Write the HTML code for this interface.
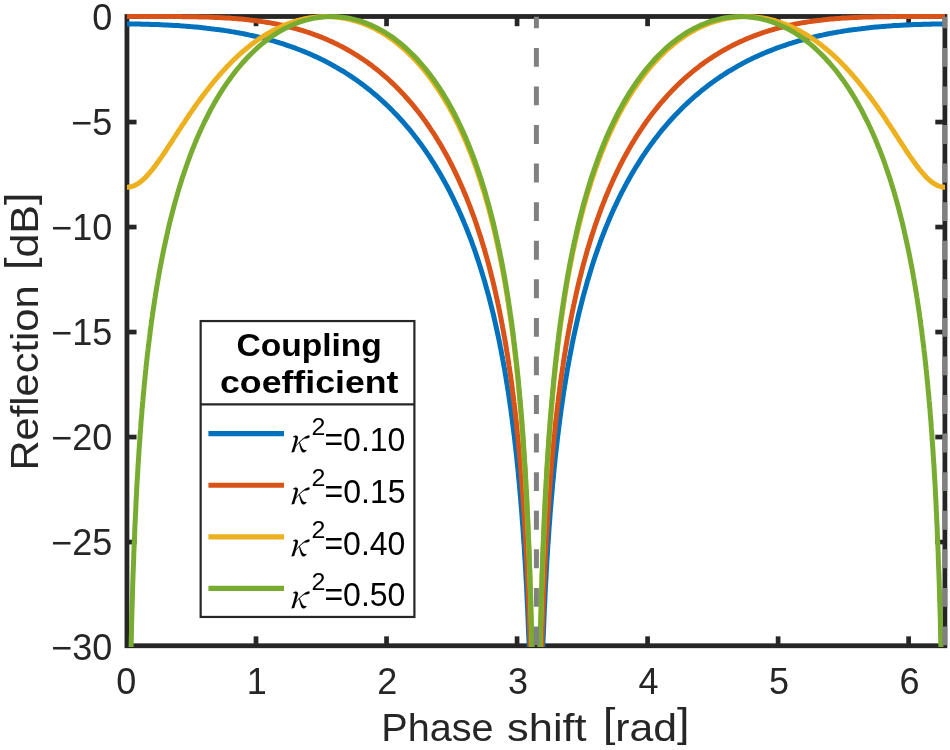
<!DOCTYPE html>
<html><head><meta charset="utf-8"><title>Reflection vs phase shift</title>
<style>html,body{margin:0;padding:0;background:#fff}svg{display:block}</style></head>
<body>
<svg width="950" height="750" viewBox="0 0 950 750">
<defs><clipPath id="pc"><rect x="126.2" y="13.9" width="819.4" height="633"/></clipPath><clipPath id="pd"><rect x="124" y="16.8" width="824" height="630.1"/></clipPath></defs>
<rect width="950" height="750" fill="#fff"/>
<rect x="126.95" y="16.5" width="817.9499999999999" height="629.25" stroke="#262626" stroke-width="4.8" fill="none"/>
<g stroke="#262626" stroke-width="4.7" fill="none">
<path d="M256.02,645.75 V636.35"/>
<path d="M256.02,16.5 V26.2"/>
<path d="M386.54,645.75 V636.35"/>
<path d="M386.54,16.5 V26.2"/>
<path d="M517.06,645.75 V636.35"/>
<path d="M517.06,16.5 V26.2"/>
<path d="M647.58,645.75 V636.35"/>
<path d="M647.58,16.5 V26.2"/>
<path d="M778.10,645.75 V636.35"/>
<path d="M778.10,16.5 V26.2"/>
<path d="M908.62,645.75 V636.35"/>
<path d="M908.62,16.5 V26.2"/>
<path d="M126.95,122.05 H136.54999999999998"/>
<path d="M944.9,122.05 H935.3"/>
<path d="M126.95,227.05 H136.54999999999998"/>
<path d="M944.9,227.05 H935.3"/>
<path d="M126.95,332.05 H136.54999999999998"/>
<path d="M944.9,332.05 H935.3"/>
<path d="M126.95,437.05 H136.54999999999998"/>
<path d="M944.9,437.05 H935.3"/>
<path d="M126.95,542.05 H136.54999999999998"/>
<path d="M944.9,542.05 H935.3"/>
</g>
<g clip-path="url(#pc)" fill="none" stroke-linejoin="round">
<path d="M127.0,24.0 L127.3,24.0 L127.5,24.0 L127.8,24.0 L128.1,24.0 L128.4,24.0 L128.6,24.0 L128.9,24.0 L129.0,24.0 L129.2,24.0 L129.5,24.0 L129.7,24.0 L130.0,24.0 L130.3,24.0 L130.6,24.0 L130.8,24.0 L131.1,24.0 L131.1,24.0 L131.4,24.0 L131.6,24.0 L131.9,24.1 L132.2,24.1 L132.5,24.1 L132.7,24.1 L133.0,24.1 L133.1,24.1 L133.3,24.1 L133.6,24.1 L133.8,24.1 L134.1,24.1 L134.4,24.1 L134.7,24.1 L134.9,24.1 L135.2,24.1 L135.2,24.1 L135.5,24.1 L135.8,24.1 L136.0,24.1 L136.3,24.1 L136.6,24.1 L136.8,24.1 L137.1,24.1 L137.2,24.1 L137.4,24.1 L137.7,24.1 L137.9,24.1 L138.2,24.1 L138.5,24.1 L138.8,24.1 L139.0,24.1 L139.3,24.1 L139.3,24.1 L139.6,24.1 L139.9,24.1 L140.1,24.1 L140.4,24.1 L140.7,24.1 L140.9,24.2 L141.2,24.2 L141.3,24.2 L141.5,24.2 L141.8,24.2 L142.0,24.2 L142.3,24.2 L142.6,24.2 L142.9,24.2 L143.1,24.2 L143.4,24.2 L143.4,24.2 L143.7,24.2 L144.0,24.2 L144.2,24.2 L144.5,24.2 L144.8,24.2 L145.1,24.2 L145.3,24.2 L145.4,24.2 L145.6,24.2 L145.9,24.2 L146.1,24.3 L146.4,24.3 L146.7,24.3 L147.0,24.3 L147.2,24.3 L147.4,24.3 L147.5,24.3 L147.8,24.3 L148.1,24.3 L148.3,24.3 L148.6,24.3 L148.9,24.3 L149.2,24.3 L149.4,24.3 L149.5,24.3 L149.7,24.3 L150.0,24.3 L150.2,24.4 L150.5,24.4 L150.8,24.4 L151.1,24.4 L151.3,24.4 L151.5,24.4 L151.6,24.4 L151.9,24.4 L152.2,24.4 L152.4,24.4 L152.7,24.4 L153.0,24.4 L153.3,24.4 L153.5,24.5 L153.6,24.5 L153.8,24.5 L154.1,24.5 L154.4,24.5 L154.6,24.5 L154.9,24.5 L155.2,24.5 L155.4,24.5 L155.6,24.5 L155.7,24.5 L156.0,24.5 L156.3,24.5 L156.5,24.6 L156.8,24.6 L157.1,24.6 L157.4,24.6 L157.6,24.6 L157.7,24.6 L157.9,24.6 L158.2,24.6 L158.5,24.6 L158.7,24.6 L159.0,24.6 L159.3,24.7 L159.5,24.7 L159.7,24.7 L161.8,24.8 L163.8,24.9 L165.9,24.9 L167.9,25.0 L169.9,25.2 L172.0,25.3 L174.0,25.4 L176.1,25.5 L178.1,25.6 L180.2,25.8 L182.2,25.9 L184.3,26.1 L186.3,26.2 L188.4,26.4 L190.4,26.6 L192.4,26.7 L194.5,26.9 L196.5,27.1 L198.6,27.3 L200.6,27.5 L202.7,27.7 L204.7,27.9 L206.8,28.2 L208.8,28.4 L210.8,28.7 L212.9,28.9 L214.9,29.2 L217.0,29.4 L219.0,29.7 L221.1,30.0 L223.1,30.3 L225.2,30.6 L227.2,30.9 L229.3,31.2 L231.3,31.6 L233.3,31.9 L235.4,32.3 L237.4,32.6 L239.5,33.0 L241.5,33.4 L243.6,33.8 L245.6,34.2 L247.7,34.6 L249.7,35.1 L251.7,35.5 L253.8,36.0 L255.8,36.4 L257.9,36.9 L259.9,37.4 L262.0,37.9 L264.0,38.4 L266.1,39.0 L268.1,39.5 L270.1,40.1 L272.2,40.6 L274.2,41.2 L276.3,41.8 L278.3,42.4 L280.4,43.1 L282.4,43.7 L284.5,44.4 L286.5,45.1 L288.6,45.8 L290.6,46.5 L292.6,47.2 L294.7,47.9 L296.7,48.7 L298.8,49.5 L300.8,50.3 L302.9,51.1 L304.9,51.9 L307.0,52.8 L309.0,53.6 L311.1,54.5 L313.1,55.5 L315.1,56.4 L317.2,57.3 L319.2,58.3 L321.3,59.3 L323.3,60.3 L325.4,61.3 L327.4,62.4 L329.5,63.5 L331.5,64.6 L333.5,65.7 L335.6,66.9 L337.6,68.1 L339.7,69.3 L341.7,70.5 L343.8,71.7 L345.8,73.0 L347.9,74.3 L349.9,75.7 L352.0,77.0 L354.0,78.4 L356.0,79.8 L358.1,81.3 L360.1,82.7 L362.2,84.3 L364.2,85.8 L366.3,87.4 L368.3,89.0 L370.4,90.6 L372.4,92.3 L374.4,94.0 L376.5,95.7 L378.5,97.5 L380.6,99.3 L382.6,101.2 L384.7,103.1 L386.7,105.0 L388.8,107.0 L390.8,109.0 L392.9,111.1 L394.9,113.2 L396.9,115.3 L399.0,117.5 L401.0,119.7 L403.1,122.0 L405.1,124.4 L407.2,126.8 L409.2,129.2 L411.3,131.7 L413.3,134.3 L415.3,136.9 L417.4,139.5 L419.4,142.3 L421.5,145.1 L423.5,147.9 L425.6,150.9 L427.6,153.9 L429.7,156.9 L431.7,160.1 L433.8,163.3 L435.8,166.6 L437.8,170.0 L439.9,173.5 L441.9,177.0 L444.0,180.7 L446.0,184.4 L448.1,188.3 L450.1,192.2 L452.2,196.3 L454.2,200.5 L456.2,204.8 L458.3,209.2 L460.3,213.8 L462.4,218.5 L464.4,223.4 L466.5,228.4 L468.5,233.6 L470.6,238.9 L472.6,244.5 L474.7,250.2 L476.7,256.1 L478.7,262.3 L480.8,268.7 L482.8,275.4 L484.9,282.3 L486.9,289.6 L489.0,297.2 L491.0,305.1 L493.1,313.4 L495.1,322.1 L496.9,330.4 L497.1,331.3 L497.3,331.9 L497.6,333.4 L497.9,334.9 L498.3,336.5 L498.6,338.1 L498.9,339.6 L499.2,341.0 L499.2,341.2 L499.6,342.8 L499.9,344.4 L500.2,346.1 L500.5,347.7 L500.9,349.4 L501.2,351.1 L501.2,351.3 L501.5,352.8 L501.8,354.5 L502.2,356.2 L502.5,358.0 L502.8,359.7 L503.2,361.5 L503.3,362.2 L503.5,363.3 L503.8,365.1 L504.1,367.0 L504.5,368.8 L504.8,370.7 L505.1,372.6 L505.3,373.8 L505.4,374.5 L505.8,376.5 L506.1,378.4 L506.4,380.4 L506.7,382.4 L507.1,384.4 L507.4,386.3 L507.4,386.5 L507.7,388.6 L508.1,390.7 L508.4,392.8 L508.7,395.0 L509.0,397.1 L509.4,399.3 L509.4,399.7 L509.7,401.6 L510.0,403.8 L510.3,406.1 L510.7,408.4 L511.0,410.8 L511.3,413.2 L511.5,414.2 L511.7,415.6 L512.0,418.0 L512.3,420.5 L512.6,423.0 L513.0,425.6 L513.3,428.2 L513.5,429.9 L513.6,430.8 L513.9,433.5 L514.3,436.2 L514.6,438.9 L514.9,441.7 L515.2,444.5 L515.6,447.2 L515.6,447.4 L515.9,450.3 L516.2,453.3 L516.6,456.3 L516.9,459.4 L517.2,462.5 L517.5,465.7 L517.6,466.3 L517.9,469.0 L518.2,472.3 L518.5,475.6 L518.8,479.1 L519.2,482.6 L519.5,486.1 L519.6,487.7 L519.8,489.8 L520.1,493.5 L520.5,497.2 L520.8,501.1 L521.1,505.1 L521.5,509.1 L521.7,512.0 L521.8,513.2 L522.1,517.5 L522.4,521.8 L522.8,526.2 L523.1,530.8 L523.4,535.4 L523.7,540.0 L523.7,540.2 L524.1,545.1 L524.4,550.2 L524.7,555.4 L525.1,560.7 L525.4,566.3 L525.7,571.9 L525.8,573.2 L526.0,577.8 L526.4,583.9 L526.7,590.2 L527.0,596.7 L527.3,603.4 L527.7,610.4 L527.8,613.8 L528.0,617.7 L528.3,625.3 L528.6,633.2 L529.0,641.5 L529.3,650.1 L529.6,659.2 L529.9,666.2 L530.0,668.8 L530.3,678.9 L530.6,689.7 L530.9,701.0 L541.1,701.0 L541.4,689.7 L541.7,678.9 L542.0,668.8 L542.1,666.2 L542.4,659.2 L542.7,650.1 L543.0,641.5 L543.4,633.2 L543.7,625.3 L544.0,617.7 L544.2,613.8 L544.3,610.4 L544.7,603.4 L545.0,596.7 L545.3,590.2 L545.6,583.9 L546.0,577.8 L546.2,573.2 L546.3,571.9 L546.6,566.3 L546.9,560.7 L547.3,555.4 L547.6,550.2 L547.9,545.1 L548.3,540.2 L548.3,540.0 L548.6,535.4 L548.9,530.8 L549.2,526.2 L549.6,521.8 L549.9,517.5 L550.2,513.2 L550.3,512.0 L550.5,509.1 L550.9,505.1 L551.2,501.1 L551.5,497.2 L551.9,493.5 L552.2,489.8 L552.4,487.7 L552.5,486.1 L552.8,482.6 L553.2,479.1 L553.5,475.6 L553.8,472.3 L554.1,469.0 L554.4,466.3 L554.5,465.7 L554.8,462.5 L555.1,459.4 L555.4,456.3 L555.8,453.3 L556.1,450.3 L556.4,447.4 L556.5,447.2 L556.8,444.5 L557.1,441.7 L557.4,438.9 L557.7,436.2 L558.1,433.5 L558.4,430.8 L558.5,429.9 L558.7,428.2 L559.0,425.6 L559.4,423.0 L559.7,420.5 L560.0,418.0 L560.3,415.6 L560.5,414.2 L560.7,413.2 L561.0,410.8 L561.3,408.4 L561.7,406.1 L562.0,403.8 L562.3,401.6 L562.6,399.7 L562.6,399.3 L563.0,397.1 L563.3,395.0 L563.6,392.8 L563.9,390.7 L564.3,388.6 L564.6,386.5 L564.6,386.3 L564.9,384.4 L565.3,382.4 L565.6,380.4 L565.9,378.4 L566.2,376.5 L566.6,374.5 L566.7,373.8 L566.9,372.6 L567.2,370.7 L567.5,368.8 L567.9,367.0 L568.2,365.1 L568.5,363.3 L568.7,362.2 L568.8,361.5 L569.2,359.7 L569.5,358.0 L569.8,356.2 L570.2,354.5 L570.5,352.8 L570.8,351.3 L570.8,351.1 L571.1,349.4 L571.5,347.7 L571.8,346.1 L572.1,344.4 L572.4,342.8 L572.8,341.2 L572.8,341.0 L573.1,339.6 L573.4,338.1 L573.7,336.5 L574.1,334.9 L574.4,333.4 L574.7,331.9 L574.9,331.3 L575.1,330.4 L576.9,322.1 L578.9,313.4 L581.0,305.1 L583.0,297.2 L585.1,289.6 L587.1,282.3 L589.2,275.4 L591.2,268.7 L593.3,262.3 L595.3,256.1 L597.4,250.2 L599.4,244.5 L601.4,238.9 L603.5,233.6 L605.5,228.4 L607.6,223.4 L609.6,218.5 L611.7,213.8 L613.7,209.2 L615.8,204.8 L617.8,200.5 L619.8,196.3 L621.9,192.2 L623.9,188.3 L626.0,184.4 L628.0,180.7 L630.1,177.0 L632.1,173.5 L634.2,170.0 L636.2,166.6 L638.3,163.3 L640.3,160.1 L642.3,156.9 L644.4,153.9 L646.4,150.9 L648.5,147.9 L650.5,145.1 L652.6,142.3 L654.6,139.5 L656.7,136.9 L658.7,134.3 L660.7,131.7 L662.8,129.2 L664.8,126.8 L666.9,124.4 L668.9,122.0 L671.0,119.7 L673.0,117.5 L675.1,115.3 L677.1,113.2 L679.2,111.1 L681.2,109.0 L683.2,107.0 L685.3,105.0 L687.3,103.1 L689.4,101.2 L691.4,99.3 L693.5,97.5 L695.5,95.7 L697.6,94.0 L699.6,92.3 L701.6,90.6 L703.7,89.0 L705.7,87.4 L707.8,85.8 L709.8,84.3 L711.9,82.7 L713.9,81.3 L716.0,79.8 L718.0,78.4 L720.0,77.0 L722.1,75.7 L724.1,74.3 L726.2,73.0 L728.2,71.7 L730.3,70.5 L732.3,69.3 L734.4,68.1 L736.4,66.9 L738.5,65.7 L740.5,64.6 L742.5,63.5 L744.6,62.4 L746.6,61.3 L748.7,60.3 L750.7,59.3 L752.8,58.3 L754.8,57.3 L756.9,56.4 L758.9,55.5 L761.0,54.5 L763.0,53.6 L765.0,52.8 L767.1,51.9 L769.1,51.1 L771.2,50.3 L773.2,49.5 L775.3,48.7 L777.3,47.9 L779.4,47.2 L781.4,46.5 L783.4,45.8 L785.5,45.1 L787.5,44.4 L789.6,43.7 L791.6,43.1 L793.7,42.4 L795.7,41.8 L797.8,41.2 L799.8,40.6 L801.9,40.1 L803.9,39.5 L805.9,39.0 L808.0,38.4 L810.0,37.9 L812.1,37.4 L814.1,36.9 L816.2,36.4 L818.2,36.0 L820.3,35.5 L822.3,35.1 L824.3,34.6 L826.4,34.2 L828.4,33.8 L830.5,33.4 L832.5,33.0 L834.6,32.6 L836.6,32.3 L838.7,31.9 L840.7,31.6 L842.8,31.2 L844.8,30.9 L846.8,30.6 L848.9,30.3 L850.9,30.0 L853.0,29.7 L855.0,29.4 L857.1,29.2 L859.1,28.9 L861.2,28.7 L863.2,28.4 L865.2,28.2 L867.3,27.9 L869.3,27.7 L871.4,27.5 L873.4,27.3 L875.5,27.1 L877.5,26.9 L879.6,26.7 L881.6,26.6 L883.7,26.4 L885.7,26.2 L887.7,26.1 L889.8,25.9 L891.8,25.8 L893.9,25.6 L895.9,25.5 L898.0,25.4 L900.0,25.3 L902.1,25.2 L904.1,25.0 L906.1,24.9 L908.2,24.9 L910.2,24.8 L912.3,24.7 L912.5,24.7 L912.7,24.7 L913.0,24.6 L913.3,24.6 L913.5,24.6 L913.8,24.6 L914.1,24.6 L914.3,24.6 L914.4,24.6 L914.6,24.6 L914.9,24.6 L915.2,24.6 L915.5,24.6 L915.7,24.5 L916.0,24.5 L916.3,24.5 L916.4,24.5 L916.6,24.5 L916.8,24.5 L917.1,24.5 L917.4,24.5 L917.6,24.5 L917.9,24.5 L918.2,24.5 L918.4,24.5 L918.5,24.5 L918.7,24.4 L919.0,24.4 L919.3,24.4 L919.6,24.4 L919.8,24.4 L920.1,24.4 L920.4,24.4 L920.5,24.4 L920.7,24.4 L920.9,24.4 L921.2,24.4 L921.5,24.4 L921.8,24.4 L922.0,24.3 L922.3,24.3 L922.5,24.3 L922.6,24.3 L922.8,24.3 L923.1,24.3 L923.4,24.3 L923.7,24.3 L923.9,24.3 L924.2,24.3 L924.5,24.3 L924.6,24.3 L924.8,24.3 L925.0,24.3 L925.3,24.3 L925.6,24.3 L925.9,24.3 L926.1,24.2 L926.4,24.2 L926.6,24.2 L926.7,24.2 L926.9,24.2 L927.2,24.2 L927.5,24.2 L927.8,24.2 L928.0,24.2 L928.3,24.2 L928.6,24.2 L928.6,24.2 L928.9,24.2 L929.1,24.2 L929.4,24.2 L929.7,24.2 L930.0,24.2 L930.2,24.2 L930.5,24.2 L930.7,24.2 L930.8,24.2 L931.1,24.2 L931.3,24.1 L931.6,24.1 L931.9,24.1 L932.1,24.1 L932.4,24.1 L932.7,24.1 L932.7,24.1 L933.0,24.1 L933.2,24.1 L933.5,24.1 L933.8,24.1 L934.1,24.1 L934.3,24.1 L934.6,24.1 L934.8,24.1 L934.9,24.1 L935.2,24.1 L935.4,24.1 L935.7,24.1 L936.0,24.1 L936.2,24.1 L936.5,24.1 L936.8,24.1 L936.8,24.1 L937.1,24.1 L937.3,24.1 L937.6,24.1 L937.9,24.1 L938.2,24.1 L938.4,24.1 L938.7,24.1 L938.9,24.1 L939.0,24.1 L939.3,24.1 L939.5,24.1 L939.8,24.1 L940.1,24.1 L940.4,24.0 L940.6,24.0 L940.9,24.0 L940.9,24.0 L941.2,24.0 L941.4,24.0 L941.7,24.0 L942.0,24.0 L942.3,24.0 L942.5,24.0 L942.8,24.0 L943.0,24.0 L943.1,24.0 L943.4,24.0 L943.6,24.0 L943.9,24.0 L944.2,24.0 L944.5,24.0 L944.7,24.0 L945.0,24.0" stroke="#0072BD" stroke-width="5.0"/>
<path d="M127.0,16.6 L127.3,16.6 L127.5,16.6 L127.8,16.6 L128.1,16.6 L128.4,16.6 L128.6,16.6 L128.9,16.6 L129.0,16.6 L129.2,16.6 L129.5,16.6 L129.7,16.6 L130.0,16.6 L130.3,16.6 L130.6,16.6 L130.8,16.6 L131.1,16.6 L131.1,16.6 L131.4,16.6 L131.6,16.6 L131.9,16.6 L132.2,16.6 L132.5,16.6 L132.7,16.6 L133.0,16.6 L133.1,16.6 L133.3,16.6 L133.6,16.6 L133.8,16.6 L134.1,16.6 L134.4,16.6 L134.7,16.6 L134.9,16.6 L135.2,16.6 L135.2,16.6 L135.5,16.6 L135.8,16.6 L136.0,16.6 L136.3,16.6 L136.6,16.6 L136.8,16.6 L137.1,16.6 L137.2,16.6 L137.4,16.6 L137.7,16.6 L137.9,16.6 L138.2,16.6 L138.5,16.6 L138.8,16.6 L139.0,16.6 L139.3,16.6 L139.3,16.6 L139.6,16.6 L139.9,16.6 L140.1,16.6 L140.4,16.6 L140.7,16.6 L140.9,16.6 L141.2,16.6 L141.3,16.6 L141.5,16.6 L141.8,16.6 L142.0,16.6 L142.3,16.6 L142.6,16.6 L142.9,16.6 L143.1,16.6 L143.4,16.6 L143.4,16.6 L143.7,16.6 L144.0,16.6 L144.2,16.6 L144.5,16.6 L144.8,16.6 L145.1,16.6 L145.3,16.6 L145.4,16.6 L145.6,16.6 L145.9,16.6 L146.1,16.6 L146.4,16.6 L146.7,16.6 L147.0,16.6 L147.2,16.6 L147.4,16.6 L147.5,16.6 L147.8,16.6 L148.1,16.6 L148.3,16.6 L148.6,16.6 L148.9,16.6 L149.2,16.6 L149.4,16.6 L149.5,16.6 L149.7,16.6 L150.0,16.6 L150.2,16.6 L150.5,16.6 L150.8,16.6 L151.1,16.6 L151.3,16.6 L151.5,16.6 L151.6,16.6 L151.9,16.6 L152.2,16.6 L152.4,16.6 L152.7,16.6 L153.0,16.6 L153.3,16.6 L153.5,16.6 L153.6,16.6 L153.8,16.6 L154.1,16.6 L154.4,16.6 L154.6,16.6 L154.9,16.6 L155.2,16.6 L155.4,16.6 L155.6,16.6 L155.7,16.6 L156.0,16.6 L156.3,16.6 L156.5,16.6 L156.8,16.6 L157.1,16.6 L157.4,16.6 L157.6,16.6 L157.7,16.6 L157.9,16.6 L158.2,16.6 L158.5,16.6 L158.7,16.6 L159.0,16.6 L159.3,16.6 L159.5,16.6 L159.7,16.6 L161.8,16.6 L163.8,16.6 L165.9,16.6 L167.9,16.6 L169.9,16.6 L172.0,16.6 L174.0,16.6 L176.1,16.6 L178.1,16.6 L180.2,16.6 L182.2,16.7 L184.3,16.7 L186.3,16.7 L188.4,16.7 L190.4,16.7 L192.4,16.8 L194.5,16.8 L196.5,16.8 L198.6,16.9 L200.6,16.9 L202.7,17.0 L204.7,17.0 L206.8,17.1 L208.8,17.1 L210.8,17.2 L212.9,17.3 L214.9,17.4 L217.0,17.5 L219.0,17.6 L221.1,17.7 L223.1,17.8 L225.2,17.9 L227.2,18.0 L229.3,18.1 L231.3,18.3 L233.3,18.4 L235.4,18.6 L237.4,18.7 L239.5,18.9 L241.5,19.1 L243.6,19.3 L245.6,19.5 L247.7,19.7 L249.7,20.0 L251.7,20.2 L253.8,20.4 L255.8,20.7 L257.9,21.0 L259.9,21.3 L262.0,21.6 L264.0,21.9 L266.1,22.2 L268.1,22.5 L270.1,22.9 L272.2,23.3 L274.2,23.6 L276.3,24.0 L278.3,24.5 L280.4,24.9 L282.4,25.3 L284.5,25.8 L286.5,26.3 L288.6,26.8 L290.6,27.3 L292.6,27.8 L294.7,28.3 L296.7,28.9 L298.8,29.5 L300.8,30.1 L302.9,30.7 L304.9,31.3 L307.0,32.0 L309.0,32.7 L311.1,33.4 L313.1,34.1 L315.1,34.8 L317.2,35.6 L319.2,36.4 L321.3,37.2 L323.3,38.0 L325.4,38.9 L327.4,39.8 L329.5,40.7 L331.5,41.6 L333.5,42.6 L335.6,43.5 L337.6,44.5 L339.7,45.6 L341.7,46.6 L343.8,47.7 L345.8,48.8 L347.9,50.0 L349.9,51.1 L352.0,52.4 L354.0,53.6 L356.0,54.8 L358.1,56.1 L360.1,57.5 L362.2,58.8 L364.2,60.2 L366.3,61.6 L368.3,63.1 L370.4,64.6 L372.4,66.1 L374.4,67.7 L376.5,69.3 L378.5,70.9 L380.6,72.6 L382.6,74.3 L384.7,76.1 L386.7,77.9 L388.8,79.7 L390.8,81.6 L392.9,83.6 L394.9,85.5 L396.9,87.6 L399.0,89.6 L401.0,91.8 L403.1,93.9 L405.1,96.2 L407.2,98.5 L409.2,100.8 L411.3,103.2 L413.3,105.6 L415.3,108.1 L417.4,110.7 L419.4,113.3 L421.5,116.0 L423.5,118.8 L425.6,121.6 L427.6,124.5 L429.7,127.5 L431.7,130.6 L433.8,133.7 L435.8,136.9 L437.8,140.2 L439.9,143.6 L441.9,147.1 L444.0,150.7 L446.0,154.3 L448.1,158.1 L450.1,162.0 L452.2,166.0 L454.2,170.1 L456.2,174.4 L458.3,178.7 L460.3,183.2 L462.4,187.9 L464.4,192.7 L466.5,197.6 L468.5,202.8 L470.6,208.1 L472.6,213.6 L474.7,219.2 L476.7,225.1 L478.7,231.3 L480.8,237.6 L482.8,244.2 L484.9,251.1 L486.9,258.4 L489.0,265.9 L491.0,273.8 L493.1,282.0 L495.1,290.7 L496.9,299.0 L497.1,299.9 L497.3,300.5 L497.6,302.0 L497.9,303.5 L498.3,305.1 L498.6,306.6 L498.9,308.2 L499.2,309.6 L499.2,309.8 L499.6,311.4 L499.9,313.0 L500.2,314.6 L500.5,316.3 L500.9,317.9 L501.2,319.6 L501.2,319.8 L501.5,321.3 L501.8,323.0 L502.2,324.7 L502.5,326.5 L502.8,328.2 L503.2,330.0 L503.3,330.7 L503.5,331.8 L503.8,333.6 L504.1,335.5 L504.5,337.3 L504.8,339.2 L505.1,341.1 L505.3,342.3 L505.4,343.0 L505.8,344.9 L506.1,346.9 L506.4,348.9 L506.7,350.9 L507.1,352.9 L507.4,354.7 L507.4,354.9 L507.7,357.0 L508.1,359.1 L508.4,361.2 L508.7,363.4 L509.0,365.6 L509.4,367.8 L509.4,368.1 L509.7,370.0 L510.0,372.2 L510.3,374.5 L510.7,376.8 L511.0,379.2 L511.3,381.6 L511.5,382.6 L511.7,384.0 L512.0,386.4 L512.3,388.9 L512.6,391.4 L513.0,394.0 L513.3,396.6 L513.5,398.3 L513.6,399.2 L513.9,401.8 L514.3,404.5 L514.6,407.3 L514.9,410.1 L515.2,412.9 L515.6,415.6 L515.6,415.8 L515.9,418.7 L516.2,421.7 L516.6,424.7 L516.9,427.8 L517.2,430.9 L517.5,434.1 L517.6,434.7 L517.9,437.3 L518.2,440.6 L518.5,444.0 L518.8,447.4 L519.2,450.9 L519.5,454.4 L519.6,456.1 L519.8,458.1 L520.1,461.8 L520.5,465.6 L520.8,469.4 L521.1,473.4 L521.5,477.4 L521.7,480.3 L521.8,481.5 L522.1,485.8 L522.4,490.1 L522.8,494.5 L523.1,499.1 L523.4,503.7 L523.7,508.3 L523.7,508.5 L524.1,513.4 L524.4,518.5 L524.7,523.7 L525.1,529.0 L525.4,534.6 L525.7,540.2 L525.8,541.5 L526.0,546.1 L526.4,552.2 L526.7,558.4 L527.0,564.9 L527.3,571.7 L527.7,578.7 L527.8,582.1 L528.0,586.0 L528.3,593.6 L528.6,601.5 L529.0,609.7 L529.3,618.4 L529.6,627.5 L529.9,634.5 L530.0,637.1 L530.3,647.2 L530.6,657.9 L530.9,669.3 L531.3,681.5 L531.6,694.5 L531.9,708.3 L540.1,708.3 L540.4,694.5 L540.7,681.5 L541.1,669.3 L541.4,657.9 L541.7,647.2 L542.0,637.1 L542.1,634.5 L542.4,627.5 L542.7,618.4 L543.0,609.7 L543.4,601.5 L543.7,593.6 L544.0,586.0 L544.2,582.1 L544.3,578.7 L544.7,571.7 L545.0,564.9 L545.3,558.4 L545.6,552.2 L546.0,546.1 L546.2,541.5 L546.3,540.2 L546.6,534.6 L546.9,529.0 L547.3,523.7 L547.6,518.5 L547.9,513.4 L548.3,508.5 L548.3,508.3 L548.6,503.7 L548.9,499.1 L549.2,494.5 L549.6,490.1 L549.9,485.8 L550.2,481.5 L550.3,480.3 L550.5,477.4 L550.9,473.4 L551.2,469.4 L551.5,465.6 L551.9,461.8 L552.2,458.1 L552.4,456.1 L552.5,454.4 L552.8,450.9 L553.2,447.4 L553.5,444.0 L553.8,440.6 L554.1,437.3 L554.4,434.7 L554.5,434.1 L554.8,430.9 L555.1,427.8 L555.4,424.7 L555.8,421.7 L556.1,418.7 L556.4,415.8 L556.5,415.6 L556.8,412.9 L557.1,410.1 L557.4,407.3 L557.7,404.5 L558.1,401.8 L558.4,399.2 L558.5,398.3 L558.7,396.6 L559.0,394.0 L559.4,391.4 L559.7,388.9 L560.0,386.4 L560.3,384.0 L560.5,382.6 L560.7,381.6 L561.0,379.2 L561.3,376.8 L561.7,374.5 L562.0,372.2 L562.3,370.0 L562.6,368.1 L562.6,367.8 L563.0,365.6 L563.3,363.4 L563.6,361.2 L563.9,359.1 L564.3,357.0 L564.6,354.9 L564.6,354.7 L564.9,352.9 L565.3,350.9 L565.6,348.9 L565.9,346.9 L566.2,344.9 L566.6,343.0 L566.7,342.3 L566.9,341.1 L567.2,339.2 L567.5,337.3 L567.9,335.5 L568.2,333.6 L568.5,331.8 L568.7,330.7 L568.8,330.0 L569.2,328.2 L569.5,326.5 L569.8,324.7 L570.2,323.0 L570.5,321.3 L570.8,319.8 L570.8,319.6 L571.1,317.9 L571.5,316.3 L571.8,314.6 L572.1,313.0 L572.4,311.4 L572.8,309.8 L572.8,309.6 L573.1,308.2 L573.4,306.6 L573.7,305.1 L574.1,303.5 L574.4,302.0 L574.7,300.5 L574.9,299.9 L575.1,299.0 L576.9,290.7 L578.9,282.0 L581.0,273.8 L583.0,265.9 L585.1,258.4 L587.1,251.1 L589.2,244.2 L591.2,237.6 L593.3,231.3 L595.3,225.1 L597.4,219.2 L599.4,213.6 L601.4,208.1 L603.5,202.8 L605.5,197.6 L607.6,192.7 L609.6,187.9 L611.7,183.2 L613.7,178.7 L615.8,174.4 L617.8,170.1 L619.8,166.0 L621.9,162.0 L623.9,158.1 L626.0,154.3 L628.0,150.7 L630.1,147.1 L632.1,143.6 L634.2,140.2 L636.2,136.9 L638.3,133.7 L640.3,130.6 L642.3,127.5 L644.4,124.5 L646.4,121.6 L648.5,118.8 L650.5,116.0 L652.6,113.3 L654.6,110.7 L656.7,108.1 L658.7,105.6 L660.7,103.2 L662.8,100.8 L664.8,98.5 L666.9,96.2 L668.9,93.9 L671.0,91.8 L673.0,89.6 L675.1,87.6 L677.1,85.5 L679.2,83.6 L681.2,81.6 L683.2,79.7 L685.3,77.9 L687.3,76.1 L689.4,74.3 L691.4,72.6 L693.5,70.9 L695.5,69.3 L697.6,67.7 L699.6,66.1 L701.6,64.6 L703.7,63.1 L705.7,61.6 L707.8,60.2 L709.8,58.8 L711.9,57.5 L713.9,56.1 L716.0,54.8 L718.0,53.6 L720.0,52.4 L722.1,51.1 L724.1,50.0 L726.2,48.8 L728.2,47.7 L730.3,46.6 L732.3,45.6 L734.4,44.5 L736.4,43.5 L738.5,42.6 L740.5,41.6 L742.5,40.7 L744.6,39.8 L746.6,38.9 L748.7,38.0 L750.7,37.2 L752.8,36.4 L754.8,35.6 L756.9,34.8 L758.9,34.1 L761.0,33.4 L763.0,32.7 L765.0,32.0 L767.1,31.3 L769.1,30.7 L771.2,30.1 L773.2,29.5 L775.3,28.9 L777.3,28.3 L779.4,27.8 L781.4,27.3 L783.4,26.8 L785.5,26.3 L787.5,25.8 L789.6,25.3 L791.6,24.9 L793.7,24.5 L795.7,24.0 L797.8,23.6 L799.8,23.3 L801.9,22.9 L803.9,22.5 L805.9,22.2 L808.0,21.9 L810.0,21.6 L812.1,21.3 L814.1,21.0 L816.2,20.7 L818.2,20.4 L820.3,20.2 L822.3,20.0 L824.3,19.7 L826.4,19.5 L828.4,19.3 L830.5,19.1 L832.5,18.9 L834.6,18.7 L836.6,18.6 L838.7,18.4 L840.7,18.3 L842.8,18.1 L844.8,18.0 L846.8,17.9 L848.9,17.8 L850.9,17.7 L853.0,17.6 L855.0,17.5 L857.1,17.4 L859.1,17.3 L861.2,17.2 L863.2,17.1 L865.2,17.1 L867.3,17.0 L869.3,17.0 L871.4,16.9 L873.4,16.9 L875.5,16.8 L877.5,16.8 L879.6,16.8 L881.6,16.7 L883.7,16.7 L885.7,16.7 L887.7,16.7 L889.8,16.7 L891.8,16.6 L893.9,16.6 L895.9,16.6 L898.0,16.6 L900.0,16.6 L902.1,16.6 L904.1,16.6 L906.1,16.6 L908.2,16.6 L910.2,16.6 L912.3,16.6 L912.5,16.6 L912.7,16.6 L913.0,16.6 L913.3,16.6 L913.5,16.6 L913.8,16.6 L914.1,16.6 L914.3,16.6 L914.4,16.6 L914.6,16.6 L914.9,16.6 L915.2,16.6 L915.5,16.6 L915.7,16.6 L916.0,16.6 L916.3,16.6 L916.4,16.6 L916.6,16.6 L916.8,16.6 L917.1,16.6 L917.4,16.6 L917.6,16.6 L917.9,16.6 L918.2,16.6 L918.4,16.6 L918.5,16.6 L918.7,16.6 L919.0,16.6 L919.3,16.6 L919.6,16.6 L919.8,16.6 L920.1,16.6 L920.4,16.6 L920.5,16.6 L920.7,16.6 L920.9,16.6 L921.2,16.6 L921.5,16.6 L921.8,16.6 L922.0,16.6 L922.3,16.6 L922.5,16.6 L922.6,16.6 L922.8,16.6 L923.1,16.6 L923.4,16.6 L923.7,16.6 L923.9,16.6 L924.2,16.6 L924.5,16.6 L924.6,16.6 L924.8,16.6 L925.0,16.6 L925.3,16.6 L925.6,16.6 L925.9,16.6 L926.1,16.6 L926.4,16.6 L926.6,16.6 L926.7,16.6 L926.9,16.6 L927.2,16.6 L927.5,16.6 L927.8,16.6 L928.0,16.6 L928.3,16.6 L928.6,16.6 L928.6,16.6 L928.9,16.6 L929.1,16.6 L929.4,16.6 L929.7,16.6 L930.0,16.6 L930.2,16.6 L930.5,16.6 L930.7,16.6 L930.8,16.6 L931.1,16.6 L931.3,16.6 L931.6,16.6 L931.9,16.6 L932.1,16.6 L932.4,16.6 L932.7,16.6 L932.7,16.6 L933.0,16.6 L933.2,16.6 L933.5,16.6 L933.8,16.6 L934.1,16.6 L934.3,16.6 L934.6,16.6 L934.8,16.6 L934.9,16.6 L935.2,16.6 L935.4,16.6 L935.7,16.6 L936.0,16.6 L936.2,16.6 L936.5,16.6 L936.8,16.6 L936.8,16.6 L937.1,16.6 L937.3,16.6 L937.6,16.6 L937.9,16.6 L938.2,16.6 L938.4,16.6 L938.7,16.6 L938.9,16.6 L939.0,16.6 L939.3,16.6 L939.5,16.6 L939.8,16.6 L940.1,16.6 L940.4,16.6 L940.6,16.6 L940.9,16.6 L940.9,16.6 L941.2,16.6 L941.4,16.6 L941.7,16.6 L942.0,16.6 L942.3,16.6 L942.5,16.6 L942.8,16.6 L943.0,16.6 L943.1,16.6 L943.4,16.6 L943.6,16.6 L943.9,16.6 L944.2,16.6 L944.5,16.6 L944.7,16.6 L945.0,16.6" stroke="#D95319" stroke-width="5.0"/>
<path d="M127.0,187.2 L127.3,187.2 L127.5,187.2 L127.8,187.2 L128.1,187.2 L128.4,187.2 L128.6,187.1 L128.9,187.1 L129.0,187.1 L129.2,187.1 L129.5,187.0 L129.7,187.0 L130.0,186.9 L130.3,186.9 L130.6,186.8 L130.8,186.8 L131.1,186.7 L131.1,186.7 L131.4,186.6 L131.6,186.6 L131.9,186.5 L132.2,186.4 L132.5,186.3 L132.7,186.2 L133.0,186.1 L133.1,186.1 L133.3,186.0 L133.6,185.9 L133.8,185.8 L134.1,185.7 L134.4,185.6 L134.7,185.4 L134.9,185.3 L135.2,185.2 L135.2,185.2 L135.5,185.0 L135.8,184.9 L136.0,184.7 L136.3,184.6 L136.6,184.4 L136.8,184.3 L137.1,184.1 L137.2,184.1 L137.4,184.0 L137.7,183.8 L137.9,183.6 L138.2,183.4 L138.5,183.2 L138.8,183.1 L139.0,182.9 L139.3,182.7 L139.3,182.7 L139.6,182.5 L139.9,182.3 L140.1,182.1 L140.4,181.9 L140.7,181.6 L140.9,181.4 L141.2,181.2 L141.3,181.1 L141.5,181.0 L141.8,180.8 L142.0,180.5 L142.3,180.3 L142.6,180.0 L142.9,179.8 L143.1,179.6 L143.4,179.4 L143.4,179.3 L143.7,179.1 L144.0,178.8 L144.2,178.5 L144.5,178.3 L144.8,178.0 L145.1,177.7 L145.3,177.5 L145.4,177.4 L145.6,177.2 L145.9,176.9 L146.1,176.6 L146.4,176.3 L146.7,176.1 L147.0,175.8 L147.2,175.5 L147.4,175.2 L147.5,175.2 L147.8,174.9 L148.1,174.6 L148.3,174.3 L148.6,174.0 L148.9,173.6 L149.2,173.3 L149.4,173.0 L149.5,172.9 L149.7,172.7 L150.0,172.4 L150.2,172.0 L150.5,171.7 L150.8,171.4 L151.1,171.1 L151.3,170.7 L151.5,170.5 L151.6,170.4 L151.9,170.1 L152.2,169.7 L152.4,169.4 L152.7,169.0 L153.0,168.7 L153.3,168.3 L153.5,168.0 L153.6,167.9 L153.8,167.6 L154.1,167.3 L154.4,166.9 L154.6,166.5 L154.9,166.2 L155.2,165.8 L155.4,165.5 L155.6,165.2 L155.7,165.1 L156.0,164.7 L156.3,164.4 L156.5,164.0 L156.8,163.6 L157.1,163.2 L157.4,162.9 L157.6,162.5 L157.7,162.4 L157.9,162.1 L158.2,161.7 L158.5,161.3 L158.7,160.9 L159.0,160.6 L159.3,160.2 L159.5,159.8 L159.7,159.5 L161.8,156.6 L163.8,153.6 L165.9,150.5 L167.9,147.4 L169.9,144.3 L172.0,141.1 L174.0,138.0 L176.1,134.8 L178.1,131.7 L180.2,128.5 L182.2,125.4 L184.3,122.3 L186.3,119.2 L188.4,116.2 L190.4,113.1 L192.4,110.2 L194.5,107.2 L196.5,104.3 L198.6,101.5 L200.6,98.6 L202.7,95.9 L204.7,93.2 L206.8,90.5 L208.8,87.9 L210.8,85.3 L212.9,82.8 L214.9,80.3 L217.0,77.9 L219.0,75.5 L221.1,73.2 L223.1,70.9 L225.2,68.7 L227.2,66.5 L229.3,64.4 L231.3,62.3 L233.3,60.3 L235.4,58.3 L237.4,56.4 L239.5,54.5 L241.5,52.7 L243.6,50.9 L245.6,49.2 L247.7,47.5 L249.7,45.9 L251.7,44.3 L253.8,42.8 L255.8,41.3 L257.9,39.8 L259.9,38.4 L262.0,37.1 L264.0,35.8 L266.1,34.5 L268.1,33.3 L270.1,32.1 L272.2,31.0 L274.2,29.9 L276.3,28.9 L278.3,27.9 L280.4,26.9 L282.4,26.0 L284.5,25.1 L286.5,24.3 L288.6,23.5 L290.6,22.8 L292.6,22.1 L294.7,21.5 L296.7,20.8 L298.8,20.3 L300.8,19.7 L302.9,19.3 L304.9,18.8 L307.0,18.4 L309.0,18.0 L311.1,17.7 L313.1,17.4 L315.1,17.2 L317.2,17.0 L319.2,16.8 L321.3,16.7 L323.3,16.6 L325.4,16.6 L327.4,16.6 L329.5,16.7 L331.5,16.7 L333.5,16.9 L335.6,17.0 L337.6,17.3 L339.7,17.5 L341.7,17.8 L343.8,18.2 L345.8,18.5 L347.9,19.0 L349.9,19.4 L352.0,20.0 L354.0,20.5 L356.0,21.1 L358.1,21.8 L360.1,22.4 L362.2,23.2 L364.2,24.0 L366.3,24.8 L368.3,25.7 L370.4,26.6 L372.4,27.6 L374.4,28.6 L376.5,29.6 L378.5,30.8 L380.6,31.9 L382.6,33.1 L384.7,34.4 L386.7,35.7 L388.8,37.1 L390.8,38.5 L392.9,40.0 L394.9,41.5 L396.9,43.1 L399.0,44.8 L401.0,46.5 L403.1,48.2 L405.1,50.0 L407.2,51.9 L409.2,53.9 L411.3,55.9 L413.3,58.0 L415.3,60.1 L417.4,62.4 L419.4,64.6 L421.5,67.0 L423.5,69.4 L425.6,72.0 L427.6,74.5 L429.7,77.2 L431.7,80.0 L433.8,82.8 L435.8,85.8 L437.8,88.8 L439.9,91.9 L441.9,95.1 L444.0,98.4 L446.0,101.9 L448.1,105.4 L450.1,109.1 L452.2,112.8 L454.2,116.7 L456.2,120.8 L458.3,124.9 L460.3,129.2 L462.4,133.7 L464.4,138.3 L466.5,143.0 L468.5,148.0 L470.6,153.1 L472.6,158.4 L474.7,164.0 L476.7,169.7 L478.7,175.7 L480.8,181.9 L482.8,188.4 L484.9,195.1 L486.9,202.2 L489.0,209.6 L491.0,217.4 L493.1,225.6 L495.1,234.1 L496.9,242.3 L497.1,243.2 L497.3,243.8 L497.6,245.3 L497.9,246.8 L498.3,248.3 L498.6,249.9 L498.9,251.4 L499.2,252.8 L499.2,253.0 L499.6,254.6 L499.9,256.2 L500.2,257.8 L500.5,259.4 L500.9,261.1 L501.2,262.7 L501.2,262.9 L501.5,264.4 L501.8,266.1 L502.2,267.8 L502.5,269.5 L502.8,271.3 L503.2,273.1 L503.3,273.7 L503.5,274.8 L503.8,276.6 L504.1,278.5 L504.5,280.3 L504.8,282.2 L505.1,284.0 L505.3,285.3 L505.4,285.9 L505.8,287.9 L506.1,289.8 L506.4,291.8 L506.7,293.8 L507.1,295.8 L507.4,297.6 L507.4,297.8 L507.7,299.9 L508.1,302.0 L508.4,304.1 L508.7,306.2 L509.0,308.4 L509.4,310.6 L509.4,310.9 L509.7,312.8 L510.0,315.0 L510.3,317.3 L510.7,319.6 L511.0,322.0 L511.3,324.3 L511.5,325.3 L511.7,326.7 L512.0,329.2 L512.3,331.6 L512.6,334.1 L513.0,336.7 L513.3,339.3 L513.5,341.0 L513.6,341.9 L513.9,344.5 L514.3,347.2 L514.6,350.0 L514.9,352.7 L515.2,355.6 L515.6,358.2 L515.6,358.4 L515.9,361.3 L516.2,364.3 L516.6,367.3 L516.9,370.4 L517.2,373.5 L517.5,376.7 L517.6,377.3 L517.9,379.9 L518.2,383.2 L518.5,386.6 L518.8,390.0 L519.2,393.5 L519.5,397.0 L519.6,398.6 L519.8,400.6 L520.1,404.3 L520.5,408.1 L520.8,412.0 L521.1,415.9 L521.5,419.9 L521.7,422.8 L521.8,424.1 L522.1,428.3 L522.4,432.6 L522.8,437.0 L523.1,441.6 L523.4,446.2 L523.7,450.8 L523.7,451.0 L524.1,455.9 L524.4,461.0 L524.7,466.2 L525.1,471.5 L525.4,477.0 L525.7,482.7 L525.8,483.9 L526.0,488.6 L526.4,494.6 L526.7,500.9 L527.0,507.4 L527.3,514.1 L527.7,521.1 L527.8,524.5 L528.0,528.4 L528.3,536.0 L528.6,543.9 L529.0,552.2 L529.3,560.8 L529.6,569.9 L529.9,576.9 L530.0,579.5 L530.3,589.6 L530.6,600.3 L530.9,611.7 L531.3,623.9 L531.6,636.9 L531.9,650.7 L531.9,650.9 L532.2,666.1 L532.6,682.6 L532.9,700.9 L539.1,700.9 L539.4,682.6 L539.8,666.1 L540.1,650.9 L540.1,650.7 L540.4,636.9 L540.7,623.9 L541.1,611.7 L541.4,600.3 L541.7,589.6 L542.0,579.5 L542.1,576.9 L542.4,569.9 L542.7,560.8 L543.0,552.2 L543.4,543.9 L543.7,536.0 L544.0,528.4 L544.2,524.5 L544.3,521.1 L544.7,514.1 L545.0,507.4 L545.3,500.9 L545.6,494.6 L546.0,488.6 L546.2,483.9 L546.3,482.7 L546.6,477.0 L546.9,471.5 L547.3,466.2 L547.6,461.0 L547.9,455.9 L548.3,451.0 L548.3,450.8 L548.6,446.2 L548.9,441.6 L549.2,437.0 L549.6,432.6 L549.9,428.3 L550.2,424.1 L550.3,422.8 L550.5,419.9 L550.9,415.9 L551.2,412.0 L551.5,408.1 L551.9,404.3 L552.2,400.6 L552.4,398.6 L552.5,397.0 L552.8,393.5 L553.2,390.0 L553.5,386.6 L553.8,383.2 L554.1,379.9 L554.4,377.3 L554.5,376.7 L554.8,373.5 L555.1,370.4 L555.4,367.3 L555.8,364.3 L556.1,361.3 L556.4,358.4 L556.5,358.2 L556.8,355.6 L557.1,352.7 L557.4,350.0 L557.7,347.2 L558.1,344.5 L558.4,341.9 L558.5,341.0 L558.7,339.3 L559.0,336.7 L559.4,334.1 L559.7,331.6 L560.0,329.2 L560.3,326.7 L560.5,325.3 L560.7,324.3 L561.0,322.0 L561.3,319.6 L561.7,317.3 L562.0,315.0 L562.3,312.8 L562.6,310.9 L562.6,310.6 L563.0,308.4 L563.3,306.2 L563.6,304.1 L563.9,302.0 L564.3,299.9 L564.6,297.8 L564.6,297.6 L564.9,295.8 L565.3,293.8 L565.6,291.8 L565.9,289.8 L566.2,287.9 L566.6,285.9 L566.7,285.3 L566.9,284.0 L567.2,282.2 L567.5,280.3 L567.9,278.5 L568.2,276.6 L568.5,274.8 L568.7,273.7 L568.8,273.1 L569.2,271.3 L569.5,269.5 L569.8,267.8 L570.2,266.1 L570.5,264.4 L570.8,262.9 L570.8,262.7 L571.1,261.1 L571.5,259.4 L571.8,257.8 L572.1,256.2 L572.4,254.6 L572.8,253.0 L572.8,252.8 L573.1,251.4 L573.4,249.9 L573.7,248.3 L574.1,246.8 L574.4,245.3 L574.7,243.8 L574.9,243.2 L575.1,242.3 L576.9,234.1 L578.9,225.6 L581.0,217.4 L583.0,209.6 L585.1,202.2 L587.1,195.1 L589.2,188.4 L591.2,181.9 L593.3,175.7 L595.3,169.7 L597.4,164.0 L599.4,158.4 L601.4,153.1 L603.5,148.0 L605.5,143.0 L607.6,138.3 L609.6,133.7 L611.7,129.2 L613.7,124.9 L615.8,120.8 L617.8,116.7 L619.8,112.8 L621.9,109.1 L623.9,105.4 L626.0,101.9 L628.0,98.4 L630.1,95.1 L632.1,91.9 L634.2,88.8 L636.2,85.8 L638.3,82.8 L640.3,80.0 L642.3,77.2 L644.4,74.5 L646.4,72.0 L648.5,69.4 L650.5,67.0 L652.6,64.6 L654.6,62.4 L656.7,60.1 L658.7,58.0 L660.7,55.9 L662.8,53.9 L664.8,51.9 L666.9,50.0 L668.9,48.2 L671.0,46.5 L673.0,44.8 L675.1,43.1 L677.1,41.5 L679.2,40.0 L681.2,38.5 L683.2,37.1 L685.3,35.7 L687.3,34.4 L689.4,33.1 L691.4,31.9 L693.5,30.8 L695.5,29.6 L697.6,28.6 L699.6,27.6 L701.6,26.6 L703.7,25.7 L705.7,24.8 L707.8,24.0 L709.8,23.2 L711.9,22.4 L713.9,21.8 L716.0,21.1 L718.0,20.5 L720.0,20.0 L722.1,19.4 L724.1,19.0 L726.2,18.5 L728.2,18.2 L730.3,17.8 L732.3,17.5 L734.4,17.3 L736.4,17.0 L738.5,16.9 L740.5,16.7 L742.5,16.7 L744.6,16.6 L746.6,16.6 L748.7,16.6 L750.7,16.7 L752.8,16.8 L754.8,17.0 L756.9,17.2 L758.9,17.4 L761.0,17.7 L763.0,18.0 L765.0,18.4 L767.1,18.8 L769.1,19.3 L771.2,19.7 L773.2,20.3 L775.3,20.8 L777.3,21.5 L779.4,22.1 L781.4,22.8 L783.4,23.5 L785.5,24.3 L787.5,25.1 L789.6,26.0 L791.6,26.9 L793.7,27.9 L795.7,28.9 L797.8,29.9 L799.8,31.0 L801.9,32.1 L803.9,33.3 L805.9,34.5 L808.0,35.8 L810.0,37.1 L812.1,38.4 L814.1,39.8 L816.2,41.3 L818.2,42.8 L820.3,44.3 L822.3,45.9 L824.3,47.5 L826.4,49.2 L828.4,50.9 L830.5,52.7 L832.5,54.5 L834.6,56.4 L836.6,58.3 L838.7,60.3 L840.7,62.3 L842.8,64.4 L844.8,66.5 L846.8,68.7 L848.9,70.9 L850.9,73.2 L853.0,75.5 L855.0,77.9 L857.1,80.3 L859.1,82.8 L861.2,85.3 L863.2,87.9 L865.2,90.5 L867.3,93.2 L869.3,95.9 L871.4,98.6 L873.4,101.5 L875.5,104.3 L877.5,107.2 L879.6,110.2 L881.6,113.1 L883.7,116.2 L885.7,119.2 L887.7,122.3 L889.8,125.4 L891.8,128.5 L893.9,131.7 L895.9,134.8 L898.0,138.0 L900.0,141.1 L902.1,144.3 L904.1,147.4 L906.1,150.5 L908.2,153.6 L910.2,156.6 L912.3,159.5 L912.5,159.8 L912.7,160.2 L913.0,160.6 L913.3,160.9 L913.5,161.3 L913.8,161.7 L914.1,162.1 L914.3,162.4 L914.4,162.5 L914.6,162.9 L914.9,163.2 L915.2,163.6 L915.5,164.0 L915.7,164.4 L916.0,164.7 L916.3,165.1 L916.4,165.2 L916.6,165.5 L916.8,165.8 L917.1,166.2 L917.4,166.5 L917.6,166.9 L917.9,167.3 L918.2,167.6 L918.4,167.9 L918.5,168.0 L918.7,168.3 L919.0,168.7 L919.3,169.0 L919.6,169.4 L919.8,169.7 L920.1,170.1 L920.4,170.4 L920.5,170.5 L920.7,170.7 L920.9,171.1 L921.2,171.4 L921.5,171.7 L921.8,172.0 L922.0,172.4 L922.3,172.7 L922.5,172.9 L922.6,173.0 L922.8,173.3 L923.1,173.6 L923.4,174.0 L923.7,174.3 L923.9,174.6 L924.2,174.9 L924.5,175.2 L924.6,175.2 L924.8,175.5 L925.0,175.8 L925.3,176.1 L925.6,176.3 L925.9,176.6 L926.1,176.9 L926.4,177.2 L926.6,177.4 L926.7,177.5 L926.9,177.7 L927.2,178.0 L927.5,178.3 L927.8,178.5 L928.0,178.8 L928.3,179.1 L928.6,179.3 L928.6,179.4 L928.9,179.6 L929.1,179.8 L929.4,180.0 L929.7,180.3 L930.0,180.5 L930.2,180.8 L930.5,181.0 L930.7,181.1 L930.8,181.2 L931.1,181.4 L931.3,181.6 L931.6,181.9 L931.9,182.1 L932.1,182.3 L932.4,182.5 L932.7,182.7 L932.7,182.7 L933.0,182.9 L933.2,183.1 L933.5,183.2 L933.8,183.4 L934.1,183.6 L934.3,183.8 L934.6,184.0 L934.8,184.1 L934.9,184.1 L935.2,184.3 L935.4,184.4 L935.7,184.6 L936.0,184.7 L936.2,184.9 L936.5,185.0 L936.8,185.2 L936.8,185.2 L937.1,185.3 L937.3,185.4 L937.6,185.6 L937.9,185.7 L938.2,185.8 L938.4,185.9 L938.7,186.0 L938.9,186.1 L939.0,186.1 L939.3,186.2 L939.5,186.3 L939.8,186.4 L940.1,186.5 L940.4,186.6 L940.6,186.6 L940.9,186.7 L940.9,186.7 L941.2,186.8 L941.4,186.8 L941.7,186.9 L942.0,186.9 L942.3,187.0 L942.5,187.0 L942.8,187.1 L943.0,187.1 L943.1,187.1 L943.4,187.1 L943.6,187.2 L943.9,187.2 L944.2,187.2 L944.5,187.2 L944.7,187.2 L945.0,187.2" stroke="#EDB120" stroke-width="5.0"/>
<path d="M130.0,702.9 L130.3,687.1 L130.6,672.5 L130.8,659.0 L131.1,647.0 L131.1,646.4 L131.4,634.7 L131.6,623.6 L131.9,613.2 L132.2,603.4 L132.5,594.0 L132.7,585.2 L133.0,576.7 L133.1,573.2 L133.3,568.6 L133.6,560.8 L133.8,553.4 L134.1,546.3 L134.4,539.4 L134.7,532.8 L134.9,526.4 L135.2,520.8 L135.2,520.2 L135.5,514.3 L135.8,508.5 L136.0,502.9 L136.3,497.5 L136.6,492.2 L136.8,487.1 L137.1,482.1 L137.2,480.2 L137.4,477.3 L137.7,472.5 L137.9,467.9 L138.2,463.4 L138.5,459.1 L138.8,454.8 L139.0,450.6 L139.3,447.1 L139.3,446.5 L139.6,442.5 L139.9,438.6 L140.1,434.8 L140.4,431.1 L140.7,427.4 L140.9,423.8 L141.2,420.3 L141.3,419.1 L141.5,416.8 L141.8,413.4 L142.0,410.1 L142.3,406.8 L142.6,403.6 L142.9,400.5 L143.1,397.4 L143.4,394.9 L143.4,394.3 L143.7,391.3 L144.0,388.4 L144.2,385.5 L144.5,382.7 L144.8,379.8 L145.1,377.1 L145.3,374.4 L145.4,373.6 L145.6,371.7 L145.9,369.0 L146.1,366.4 L146.4,363.9 L146.7,361.3 L147.0,358.9 L147.2,356.4 L147.4,354.5 L147.5,354.0 L147.8,351.6 L148.1,349.2 L148.3,346.9 L148.6,344.6 L148.9,342.3 L149.2,340.1 L149.4,337.9 L149.5,337.3 L149.7,335.7 L150.0,333.5 L150.2,331.4 L150.5,329.3 L150.8,327.2 L151.1,325.1 L151.3,323.1 L151.5,321.6 L151.6,321.1 L151.9,319.1 L152.2,317.1 L152.4,315.2 L152.7,313.3 L153.0,311.4 L153.3,309.5 L153.5,307.6 L153.6,307.3 L153.8,305.8 L154.1,304.0 L154.4,302.2 L154.6,300.4 L154.9,298.6 L155.2,296.9 L155.4,295.1 L155.6,294.0 L155.7,293.4 L156.0,291.7 L156.3,290.0 L156.5,288.4 L156.8,286.7 L157.1,285.1 L157.4,283.5 L157.6,281.9 L157.7,281.6 L157.9,280.3 L158.2,278.7 L158.5,277.1 L158.7,275.6 L159.0,274.0 L159.3,272.5 L159.5,271.0 L159.7,270.1 L161.8,259.3 L163.8,249.1 L165.9,239.6 L167.9,230.5 L169.9,221.9 L172.0,213.8 L174.0,206.0 L176.1,198.6 L178.1,191.6 L180.2,184.8 L182.2,178.3 L184.3,172.1 L186.3,166.2 L188.4,160.4 L190.4,154.9 L192.4,149.6 L194.5,144.5 L196.5,139.6 L198.6,134.8 L200.6,130.3 L202.7,125.8 L204.7,121.5 L206.8,117.4 L208.8,113.4 L210.8,109.5 L212.9,105.8 L214.9,102.1 L217.0,98.6 L219.0,95.2 L221.1,91.9 L223.1,88.7 L225.2,85.6 L227.2,82.6 L229.3,79.7 L231.3,76.9 L233.3,74.2 L235.4,71.5 L237.4,69.0 L239.5,66.5 L241.5,64.1 L243.6,61.8 L245.6,59.5 L247.7,57.3 L249.7,55.2 L251.7,53.2 L253.8,51.2 L255.8,49.3 L257.9,47.4 L259.9,45.6 L262.0,43.9 L264.0,42.3 L266.1,40.7 L268.1,39.1 L270.1,37.6 L272.2,36.2 L274.2,34.8 L276.3,33.5 L278.3,32.2 L280.4,31.0 L282.4,29.9 L284.5,28.8 L286.5,27.7 L288.6,26.7 L290.6,25.7 L292.6,24.8 L294.7,24.0 L296.7,23.2 L298.8,22.4 L300.8,21.7 L302.9,21.0 L304.9,20.4 L307.0,19.9 L309.0,19.3 L311.1,18.9 L313.1,18.4 L315.1,18.0 L317.2,17.7 L319.2,17.4 L321.3,17.2 L323.3,17.0 L325.4,16.8 L327.4,16.7 L329.5,16.6 L331.5,16.6 L333.5,16.6 L335.6,16.7 L337.6,16.8 L339.7,17.0 L341.7,17.2 L343.8,17.4 L345.8,17.7 L347.9,18.0 L349.9,18.4 L352.0,18.9 L354.0,19.3 L356.0,19.9 L358.1,20.4 L360.1,21.0 L362.2,21.7 L364.2,22.4 L366.3,23.2 L368.3,24.0 L370.4,24.8 L372.4,25.7 L374.4,26.7 L376.5,27.7 L378.5,28.8 L380.6,29.9 L382.6,31.0 L384.7,32.2 L386.7,33.5 L388.8,34.8 L390.8,36.2 L392.9,37.6 L394.9,39.1 L396.9,40.7 L399.0,42.3 L401.0,43.9 L403.1,45.6 L405.1,47.4 L407.2,49.3 L409.2,51.2 L411.3,53.2 L413.3,55.2 L415.3,57.3 L417.4,59.5 L419.4,61.8 L421.5,64.1 L423.5,66.5 L425.6,69.0 L427.6,71.5 L429.7,74.2 L431.7,76.9 L433.8,79.7 L435.8,82.6 L437.8,85.6 L439.9,88.7 L441.9,91.9 L444.0,95.2 L446.0,98.6 L448.1,102.1 L450.1,105.8 L452.2,109.5 L454.2,113.4 L456.2,117.4 L458.3,121.5 L460.3,125.8 L462.4,130.3 L464.4,134.8 L466.5,139.6 L468.5,144.5 L470.6,149.6 L472.6,154.9 L474.7,160.4 L476.7,166.2 L478.7,172.1 L480.8,178.3 L482.8,184.8 L484.9,191.6 L486.9,198.6 L489.0,206.0 L491.0,213.8 L493.1,221.9 L495.1,230.5 L496.9,238.7 L497.1,239.6 L497.3,240.1 L497.6,241.6 L497.9,243.1 L498.3,244.7 L498.6,246.2 L498.9,247.8 L499.2,249.1 L499.2,249.3 L499.6,250.9 L499.9,252.5 L500.2,254.1 L500.5,255.8 L500.9,257.4 L501.2,259.1 L501.2,259.3 L501.5,260.7 L501.8,262.4 L502.2,264.2 L502.5,265.9 L502.8,267.6 L503.2,269.4 L503.3,270.1 L503.5,271.2 L503.8,273.0 L504.1,274.8 L504.5,276.6 L504.8,278.5 L505.1,280.4 L505.3,281.6 L505.4,282.3 L505.8,284.2 L506.1,286.1 L506.4,288.1 L506.7,290.1 L507.1,292.1 L507.4,294.0 L507.4,294.2 L507.7,296.2 L508.1,298.3 L508.4,300.4 L508.7,302.5 L509.0,304.7 L509.4,306.9 L509.4,307.3 L509.7,309.1 L510.0,311.4 L510.3,313.6 L510.7,315.9 L511.0,318.3 L511.3,320.6 L511.5,321.6 L511.7,323.0 L512.0,325.5 L512.3,327.9 L512.6,330.5 L513.0,333.0 L513.3,335.6 L513.5,337.3 L513.6,338.2 L513.9,340.8 L514.3,343.5 L514.6,346.3 L514.9,349.0 L515.2,351.9 L515.6,354.5 L515.6,354.7 L515.9,357.6 L516.2,360.6 L516.6,363.6 L516.9,366.7 L517.2,369.8 L517.5,373.0 L517.6,373.6 L517.9,376.2 L518.2,379.5 L518.5,382.8 L518.8,386.3 L519.2,389.7 L519.5,393.3 L519.6,394.9 L519.8,396.9 L520.1,400.6 L520.5,404.4 L520.8,408.3 L521.1,412.2 L521.5,416.2 L521.7,419.1 L521.8,420.4 L522.1,424.6 L522.4,428.9 L522.8,433.3 L523.1,437.9 L523.4,442.5 L523.7,447.1 L523.7,447.3 L524.1,452.2 L524.4,457.3 L524.7,462.4 L525.1,467.8 L525.4,473.3 L525.7,479.0 L525.8,480.2 L526.0,484.8 L526.4,490.9 L526.7,497.2 L527.0,503.7 L527.3,510.4 L527.7,517.4 L527.8,520.8 L528.0,524.7 L528.3,532.3 L528.6,540.2 L529.0,548.4 L529.3,557.1 L529.6,566.2 L529.9,573.2 L530.0,575.8 L530.3,585.9 L530.6,596.6 L530.9,608.0 L531.3,620.2 L531.6,633.2 L531.9,647.0 L531.9,647.2 L532.2,662.4 L532.6,678.9 L532.9,697.2 L533.2,717.4 L538.8,717.4 L539.1,697.2 L539.4,678.9 L539.8,662.4 L540.1,647.2 L540.1,647.0 L540.4,633.2 L540.7,620.2 L541.1,608.0 L541.4,596.6 L541.7,585.9 L542.0,575.8 L542.1,573.2 L542.4,566.2 L542.7,557.1 L543.0,548.4 L543.4,540.2 L543.7,532.3 L544.0,524.7 L544.2,520.8 L544.3,517.4 L544.7,510.4 L545.0,503.7 L545.3,497.2 L545.6,490.9 L546.0,484.8 L546.2,480.2 L546.3,479.0 L546.6,473.3 L546.9,467.8 L547.3,462.4 L547.6,457.3 L547.9,452.2 L548.3,447.3 L548.3,447.1 L548.6,442.5 L548.9,437.9 L549.2,433.3 L549.6,428.9 L549.9,424.6 L550.2,420.4 L550.3,419.1 L550.5,416.2 L550.9,412.2 L551.2,408.3 L551.5,404.4 L551.9,400.6 L552.2,396.9 L552.4,394.9 L552.5,393.3 L552.8,389.7 L553.2,386.3 L553.5,382.8 L553.8,379.5 L554.1,376.2 L554.4,373.6 L554.5,373.0 L554.8,369.8 L555.1,366.7 L555.4,363.6 L555.8,360.6 L556.1,357.6 L556.4,354.7 L556.5,354.5 L556.8,351.9 L557.1,349.0 L557.4,346.3 L557.7,343.5 L558.1,340.8 L558.4,338.2 L558.5,337.3 L558.7,335.6 L559.0,333.0 L559.4,330.5 L559.7,327.9 L560.0,325.5 L560.3,323.0 L560.5,321.6 L560.7,320.6 L561.0,318.3 L561.3,315.9 L561.7,313.6 L562.0,311.4 L562.3,309.1 L562.6,307.3 L562.6,306.9 L563.0,304.7 L563.3,302.5 L563.6,300.4 L563.9,298.3 L564.3,296.2 L564.6,294.2 L564.6,294.0 L564.9,292.1 L565.3,290.1 L565.6,288.1 L565.9,286.1 L566.2,284.2 L566.6,282.3 L566.7,281.6 L566.9,280.4 L567.2,278.5 L567.5,276.6 L567.9,274.8 L568.2,273.0 L568.5,271.2 L568.7,270.1 L568.8,269.4 L569.2,267.6 L569.5,265.9 L569.8,264.2 L570.2,262.4 L570.5,260.7 L570.8,259.3 L570.8,259.1 L571.1,257.4 L571.5,255.8 L571.8,254.1 L572.1,252.5 L572.4,250.9 L572.8,249.3 L572.8,249.1 L573.1,247.8 L573.4,246.2 L573.7,244.7 L574.1,243.1 L574.4,241.6 L574.7,240.1 L574.9,239.6 L575.1,238.7 L576.9,230.5 L578.9,221.9 L581.0,213.8 L583.0,206.0 L585.1,198.6 L587.1,191.6 L589.2,184.8 L591.2,178.3 L593.3,172.1 L595.3,166.2 L597.4,160.4 L599.4,154.9 L601.4,149.6 L603.5,144.5 L605.5,139.6 L607.6,134.8 L609.6,130.3 L611.7,125.8 L613.7,121.5 L615.8,117.4 L617.8,113.4 L619.8,109.5 L621.9,105.8 L623.9,102.1 L626.0,98.6 L628.0,95.2 L630.1,91.9 L632.1,88.7 L634.2,85.6 L636.2,82.6 L638.3,79.7 L640.3,76.9 L642.3,74.2 L644.4,71.5 L646.4,69.0 L648.5,66.5 L650.5,64.1 L652.6,61.8 L654.6,59.5 L656.7,57.3 L658.7,55.2 L660.7,53.2 L662.8,51.2 L664.8,49.3 L666.9,47.4 L668.9,45.6 L671.0,43.9 L673.0,42.3 L675.1,40.7 L677.1,39.1 L679.2,37.6 L681.2,36.2 L683.2,34.8 L685.3,33.5 L687.3,32.2 L689.4,31.0 L691.4,29.9 L693.5,28.8 L695.5,27.7 L697.6,26.7 L699.6,25.7 L701.6,24.8 L703.7,24.0 L705.7,23.2 L707.8,22.4 L709.8,21.7 L711.9,21.0 L713.9,20.4 L716.0,19.9 L718.0,19.3 L720.0,18.9 L722.1,18.4 L724.1,18.0 L726.2,17.7 L728.2,17.4 L730.3,17.2 L732.3,17.0 L734.4,16.8 L736.4,16.7 L738.5,16.6 L740.5,16.6 L742.5,16.6 L744.6,16.7 L746.6,16.8 L748.7,17.0 L750.7,17.2 L752.8,17.4 L754.8,17.7 L756.9,18.0 L758.9,18.4 L761.0,18.9 L763.0,19.3 L765.0,19.9 L767.1,20.4 L769.1,21.0 L771.2,21.7 L773.2,22.4 L775.3,23.2 L777.3,24.0 L779.4,24.8 L781.4,25.7 L783.4,26.7 L785.5,27.7 L787.5,28.8 L789.6,29.9 L791.6,31.0 L793.7,32.2 L795.7,33.5 L797.8,34.8 L799.8,36.2 L801.9,37.6 L803.9,39.1 L805.9,40.7 L808.0,42.3 L810.0,43.9 L812.1,45.6 L814.1,47.4 L816.2,49.3 L818.2,51.2 L820.3,53.2 L822.3,55.2 L824.3,57.3 L826.4,59.5 L828.4,61.8 L830.5,64.1 L832.5,66.5 L834.6,69.0 L836.6,71.5 L838.7,74.2 L840.7,76.9 L842.8,79.7 L844.8,82.6 L846.8,85.6 L848.9,88.7 L850.9,91.9 L853.0,95.2 L855.0,98.6 L857.1,102.1 L859.1,105.8 L861.2,109.5 L863.2,113.4 L865.2,117.4 L867.3,121.5 L869.3,125.8 L871.4,130.3 L873.4,134.8 L875.5,139.6 L877.5,144.5 L879.6,149.6 L881.6,154.9 L883.7,160.4 L885.7,166.2 L887.7,172.1 L889.8,178.3 L891.8,184.8 L893.9,191.6 L895.9,198.6 L898.0,206.0 L900.0,213.8 L902.1,221.9 L904.1,230.5 L906.1,239.6 L908.2,249.1 L910.2,259.3 L912.3,270.1 L912.5,271.0 L912.7,272.5 L913.0,274.0 L913.3,275.6 L913.5,277.1 L913.8,278.7 L914.1,280.3 L914.3,281.6 L914.4,281.9 L914.6,283.5 L914.9,285.1 L915.2,286.7 L915.5,288.4 L915.7,290.0 L916.0,291.7 L916.3,293.4 L916.4,294.0 L916.6,295.1 L916.8,296.9 L917.1,298.6 L917.4,300.4 L917.6,302.2 L917.9,304.0 L918.2,305.8 L918.4,307.3 L918.5,307.6 L918.7,309.5 L919.0,311.4 L919.3,313.3 L919.6,315.2 L919.8,317.1 L920.1,319.1 L920.4,321.1 L920.5,321.6 L920.7,323.1 L920.9,325.1 L921.2,327.2 L921.5,329.3 L921.8,331.4 L922.0,333.5 L922.3,335.7 L922.5,337.3 L922.6,337.9 L922.8,340.1 L923.1,342.3 L923.4,344.6 L923.7,346.9 L923.9,349.2 L924.2,351.6 L924.5,354.0 L924.6,354.5 L924.8,356.4 L925.0,358.9 L925.3,361.3 L925.6,363.9 L925.9,366.4 L926.1,369.0 L926.4,371.7 L926.6,373.6 L926.7,374.4 L926.9,377.1 L927.2,379.8 L927.5,382.7 L927.8,385.5 L928.0,388.4 L928.3,391.3 L928.6,394.3 L928.6,394.9 L928.9,397.4 L929.1,400.5 L929.4,403.6 L929.7,406.8 L930.0,410.1 L930.2,413.4 L930.5,416.8 L930.7,419.1 L930.8,420.3 L931.1,423.8 L931.3,427.4 L931.6,431.1 L931.9,434.8 L932.1,438.6 L932.4,442.5 L932.7,446.5 L932.7,447.1 L933.0,450.6 L933.2,454.8 L933.5,459.1 L933.8,463.4 L934.1,467.9 L934.3,472.5 L934.6,477.3 L934.8,480.2 L934.9,482.1 L935.2,487.1 L935.4,492.2 L935.7,497.5 L936.0,502.9 L936.2,508.5 L936.5,514.3 L936.8,520.2 L936.8,520.8 L937.1,526.4 L937.3,532.8 L937.6,539.4 L937.9,546.3 L938.2,553.4 L938.4,560.8 L938.7,568.6 L938.9,573.2 L939.0,576.7 L939.3,585.2 L939.5,594.0 L939.8,603.4 L940.1,613.2 L940.4,623.6 L940.6,634.7 L940.9,646.4 L940.9,647.0 L941.2,659.0 L941.4,672.5 L941.7,687.1 L942.0,702.9" stroke="#77AC30" stroke-width="5.0"/>
</g>
<g clip-path="url(#pd)" fill="none">
<path d="M536.4,-29.24 V660" stroke="#808080" stroke-width="5" stroke-dasharray="18.9 19.67"/>
<path d="M944.8,-29.24 V660" stroke="#808080" stroke-width="5" stroke-dasharray="18.9 19.67"/>
</g>
<g font-family='"Liberation Sans", sans-serif' font-size="36" fill="#262626">
<text x="126.3" y="694.2" text-anchor="middle">0</text>
<text x="256.8" y="694.2" text-anchor="middle">1</text>
<text x="387.3" y="694.2" text-anchor="middle">2</text>
<text x="517.9" y="694.2" text-anchor="middle">3</text>
<text x="648.4" y="694.2" text-anchor="middle">4</text>
<text x="778.9" y="694.2" text-anchor="middle">5</text>
<text x="909.4" y="694.2" text-anchor="middle">6</text>
<text x="112.4" y="30.2" text-anchor="end">0</text>
<text x="112.4" y="135.2" text-anchor="end">−5</text>
<text x="112.4" y="240.2" text-anchor="end">−10</text>
<text x="112.4" y="345.2" text-anchor="end">−15</text>
<text x="112.4" y="450.2" text-anchor="end">−20</text>
<text x="112.4" y="555.2" text-anchor="end">−25</text>
<text x="112.4" y="660.2" text-anchor="end">−30</text>
</g>
<text y="740.9" font-family='"Liberation Sans", sans-serif' fill="#262626"><tspan x="381.30" font-size="38.8" textLength="112.30" lengthAdjust="spacingAndGlyphs">Phase</tspan> <tspan x="507.07" font-size="38.8" textLength="79.56" lengthAdjust="spacingAndGlyphs">shift</tspan> <tspan x="602.90" font-size="38.8" textLength="86.66" lengthAdjust="spacingAndGlyphs"><tspan font-size="40.6" dy="-3.7">[</tspan><tspan dy="3.7">rad</tspan><tspan font-size="40.6" dy="-3.7">]</tspan></tspan></text>
<text transform="translate(38.1,467.6) rotate(-90)" y="0" font-family='"Liberation Sans", sans-serif' fill="#262626"><tspan x="-3.00" font-size="38.8" textLength="185.33" lengthAdjust="spacingAndGlyphs">Reflection</tspan> <tspan x="197.50" font-size="38.8" textLength="77.55" lengthAdjust="spacingAndGlyphs"><tspan font-size="40.6" dy="-4.6">[</tspan><tspan dy="4.6">dB</tspan><tspan font-size="40.6" dy="-4.6">]</tspan></tspan></text>
<rect x="200.65" y="321.05" width="213.75" height="295.9" fill="#fff" stroke="#262626" stroke-width="2.2"/>
<path d="M200.65,404.4 H414.4" stroke="#262626" stroke-width="2.1"/>
<text font-family='"Liberation Sans", sans-serif' font-weight="bold" fill="#000"><tspan y="355.7" x="236.40" font-size="31.5" textLength="145.44" lengthAdjust="spacingAndGlyphs">Coupling</tspan> <tspan y="393.2" x="220.00" font-size="31.5" textLength="178.40" lengthAdjust="spacingAndGlyphs">coefficient</tspan></text>
<path d="M208.4,433.65 H284" stroke="#0072BD" stroke-width="5.2"/>
<text y="451.0" font-family='"Liberation Sans", sans-serif' fill="#000"><tspan dy="1.3" x="288.20" font-family='"Noto Serif CJK SC", "Liberation Serif", serif' font-style="italic" font-weight="500" font-size="31" textLength="18.58" lengthAdjust="spacingAndGlyphs">κ</tspan><tspan dy="-17.7" x="311.40" font-size="24.8" textLength="13.90" lengthAdjust="spacingAndGlyphs">2</tspan><tspan dy="16.4" x="324.44" font-size="33" textLength="80.94" lengthAdjust="spacingAndGlyphs">=0.10</tspan></text>
<path d="M208.4,485.25 H284" stroke="#D95319" stroke-width="5.2"/>
<text y="502.8" font-family='"Liberation Sans", sans-serif' fill="#000"><tspan dy="1.3" x="288.20" font-family='"Noto Serif CJK SC", "Liberation Serif", serif' font-style="italic" font-weight="500" font-size="31" textLength="18.58" lengthAdjust="spacingAndGlyphs">κ</tspan><tspan dy="-17.7" x="311.40" font-size="24.8" textLength="13.90" lengthAdjust="spacingAndGlyphs">2</tspan><tspan dy="16.4" x="324.44" font-size="33" textLength="81.15" lengthAdjust="spacingAndGlyphs">=0.15</tspan></text>
<path d="M208.4,536.85 H284" stroke="#EDB120" stroke-width="5.2"/>
<text y="554.5" font-family='"Liberation Sans", sans-serif' fill="#000"><tspan dy="1.3" x="288.20" font-family='"Noto Serif CJK SC", "Liberation Serif", serif' font-style="italic" font-weight="500" font-size="31" textLength="18.58" lengthAdjust="spacingAndGlyphs">κ</tspan><tspan dy="-17.7" x="311.40" font-size="24.8" textLength="13.90" lengthAdjust="spacingAndGlyphs">2</tspan><tspan dy="16.4" x="324.44" font-size="33" textLength="80.94" lengthAdjust="spacingAndGlyphs">=0.40</tspan></text>
<path d="M208.4,588.45 H284" stroke="#77AC30" stroke-width="5.2"/>
<text y="606.2" font-family='"Liberation Sans", sans-serif' fill="#000"><tspan dy="1.3" x="288.20" font-family='"Noto Serif CJK SC", "Liberation Serif", serif' font-style="italic" font-weight="500" font-size="31" textLength="18.58" lengthAdjust="spacingAndGlyphs">κ</tspan><tspan dy="-17.7" x="311.40" font-size="24.8" textLength="13.90" lengthAdjust="spacingAndGlyphs">2</tspan><tspan dy="16.4" x="324.44" font-size="33" textLength="80.94" lengthAdjust="spacingAndGlyphs">=0.50</tspan></text>
</svg>
</body></html>
